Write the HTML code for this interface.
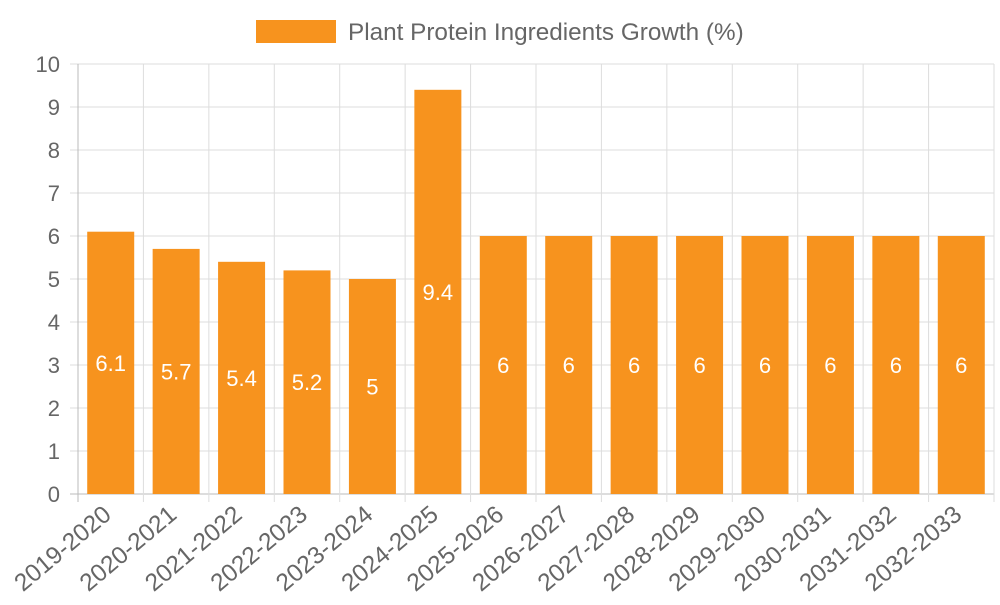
<!DOCTYPE html>
<html><head><meta charset="utf-8"><style>
body{margin:0;background:#fff;font-family:"Liberation Sans",sans-serif}
</style></head><body>
<svg id="chart" width="1000" height="600" xmlns="http://www.w3.org/2000/svg" font-family="Liberation Sans, sans-serif">
<g id="legend">
<rect x="256" y="20" width="80" height="23" fill="#F7931E"/>
<text x="348" y="40" font-size="24.3" fill="#666">Plant Protein Ingredients Growth (%)</text>
</g>
<g id="grid"></g><g id="bars"></g><g id="axes"></g>
</svg>
<script>
const categories=["2019-2020","2020-2021","2021-2022","2022-2023","2023-2024","2024-2025","2025-2026","2026-2027","2027-2028","2028-2029","2029-2030","2030-2031","2031-2032","2032-2033"];
const values=[6.1,5.7,5.4,5.2,5,9.4,6,6,6,6,6,6,6,6];
const yTicks=[0,1,2,3,4,5,6,7,8,9,10];
const NS="http://www.w3.org/2000/svg";
const L=78,R=994,T=64,B=494,yMax=10;
const band=(R-L)/categories.length;
function y(v){return B-(v/yMax)*(B-T);}
function x(i){return L+i*band;}
function mk(tag,attrs,parent){const e=document.createElementNS(NS,tag);for(const k in attrs)e.setAttribute(k,attrs[k]);parent.appendChild(e);return e;}
const grid=document.getElementById('grid'),bars=document.getElementById('bars'),axes=document.getElementById('axes');
yTicks.forEach(t=>{
  const l=mk('line',{x1:L-8,x2:R,y1:y(t),y2:y(t),stroke:t===0?'#bbb':'#ddd','stroke-width':1},grid);
  
  
  const tx=mk('text',{x:L-18,y:y(t)+8,'text-anchor':'end','font-size':22,fill:'#666'},axes);
  tx.textContent=t;
  
  
});
for(let i=0;i<=categories.length;i++){
  const l=mk('line',{x1:x(i),x2:x(i),y1:T,y2:B+8,stroke:i===0?'#bbb':'#ddd','stroke-width':1},grid);
  
  
}
const bw=47;
categories.forEach((c,i)=>{
  const cx=x(i)+band/2;
  const r=mk('rect',{x:cx-bw/2,y:y(values[i]),width:bw,height:B-y(values[i]),fill:'#F7931E'},bars);
  
  
  const v=mk('text',{x:cx,y:(y(values[i])+B)/2+8,'text-anchor':'middle','font-size':22,fill:'#fff'},bars);
  v.textContent=values[i];
  
  
  const ax=cx+2,ay=B+23;
  const tx=mk('text',{x:ax,y:ay,'text-anchor':'end','font-size':24.5,fill:'#666',transform:`rotate(-40 ${ax} ${ay})`},axes);
  tx.textContent=c;
  
  
});
</script>
</body></html>
